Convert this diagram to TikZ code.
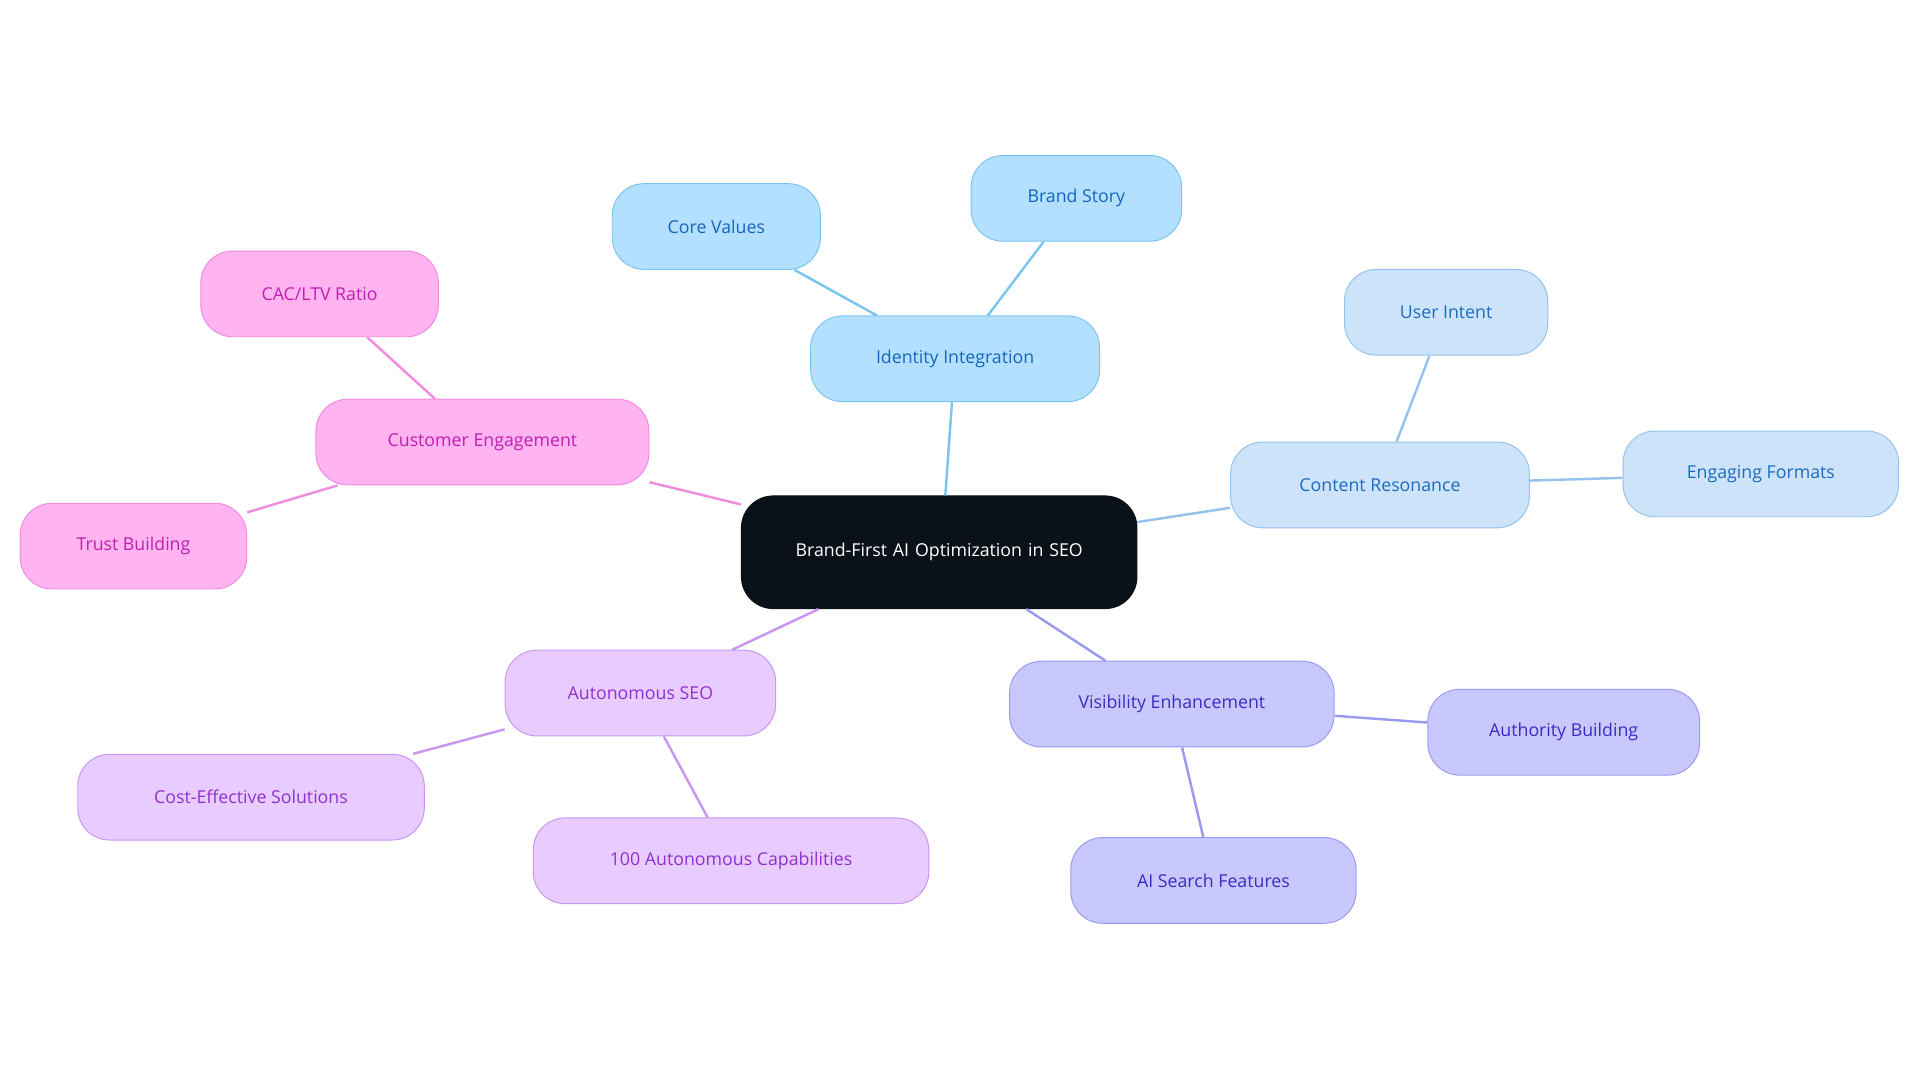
\documentclass[tikz,border=0pt]{standalone}
\usepackage{fontspec}
\setmainfont{Open Sans}
\begin{document}
\begin{tikzpicture}[x=1pt,y=-1pt,
 base/.style={rounded corners=26pt,minimum height=70pt,font=\fontsize{14.5}{16}\selectfont,line width=0.8pt,inner sep=0pt,align=center},
 cb/.style={base,fill=cbF,draw=cbD,text=cbT},
 cl/.style={base,fill=clF,draw=clD,text=clT},
 cp/.style={base,fill=cpF,draw=cpD,text=cpT},
 cv/.style={base,fill=cvF,draw=cvD,text=cvT},
 ck/.style={base,fill=ckF,draw=ckD,text=ckT},
 e/.style={line width=2pt}]
\definecolor{cbF}{HTML}{B3E0FF}\definecolor{cbD}{HTML}{7CC4F0}\definecolor{cbT}{HTML}{1565C0}
\definecolor{clF}{HTML}{CCE3FA}\definecolor{clD}{HTML}{96C2EE}\definecolor{clT}{HTML}{1E6BC0}
\definecolor{cpF}{HTML}{C8C8FF}\definecolor{cpD}{HTML}{9A9AF0}\definecolor{cpT}{HTML}{3A2CC0}
\definecolor{cvF}{HTML}{E8CCFF}\definecolor{cvD}{HTML}{C896F0}\definecolor{cvT}{HTML}{9030D0}
\definecolor{ckF}{HTML}{FFB3F0}\definecolor{ckD}{HTML}{F08CE0}\definecolor{ckT}{HTML}{C020B0}
\definecolor{cen}{HTML}{0B1118}
\useasboundingbox (0,0) rectangle (1568,884);
\node[base,fill=cen,draw=cen,text=white,minimum width=323pt,minimum height=92pt,text width=280pt] (c) at (767,451) {Brand-First AI Optimization in SEO};
\node[cb,minimum width=236pt] (ii) at (780,293) {Identity Integration};
\node[cb,minimum width=170pt] (cv1) at (585,185) {Core Values};
\node[cb,minimum width=172pt] (bs) at (879,162) {Brand Story};
\node[cl,minimum width=244pt] (cr) at (1127,396) {Content Resonance};
\node[cl,minimum width=166pt] (ui) at (1181,255) {User Intent};
\node[cl,minimum width=225pt] (ef) at (1438,387) {Engaging Formats};
\node[cp,minimum width=265pt] (ve) at (957,575) {Visibility Enhancement};
\node[cp,minimum width=222pt] (ab) at (1277,598) {Authority Building};
\node[cp,minimum width=233pt] (as) at (991,719) {AI Search Features};
\node[cv,minimum width=221pt] (ao) at (523,566) {Autonomous SEO};
\node[cv,minimum width=283pt] (ce) at (205,651) {Cost-Effective Solutions};
\node[cv,minimum width=323pt] (hc) at (597,703) {100 Autonomous Capabilities};
\node[ck,minimum width=272pt] (cu) at (394,361) {Customer Engagement};
\node[ck,minimum width=194pt] (cl2) at (261,240) {CAC/LTV Ratio};
\node[ck,minimum width=185pt] (tb) at (109,446) {Trust Building};
\begin{scope}[on background layer/.style={}]
\end{scope}
\draw[e,cbD] (c.north)++(5,0) -- (ii);
\draw[e,cbD] (ii) -- (cv1);
\draw[e,cbD] (ii) -- (bs);
\draw[e,clD] (c) -- (cr);
\draw[e,clD] (cr) -- (ui);
\draw[e,clD] (cr) -- (ef);
\draw[e,cpD] (c) -- (ve);
\draw[e,cpD] (ve) -- (ab);
\draw[e,cpD] (ve) -- (as);
\draw[e,cvD] (c) -- (ao);
\draw[e,cvD] (ao) -- (ce);
\draw[e,cvD] (ao) -- (hc);
\draw[e,ckD] (c) -- (cu);
\draw[e,ckD] (cu) -- (cl2);
\draw[e,ckD] (cu) -- (tb);
\end{tikzpicture}
\end{document}
